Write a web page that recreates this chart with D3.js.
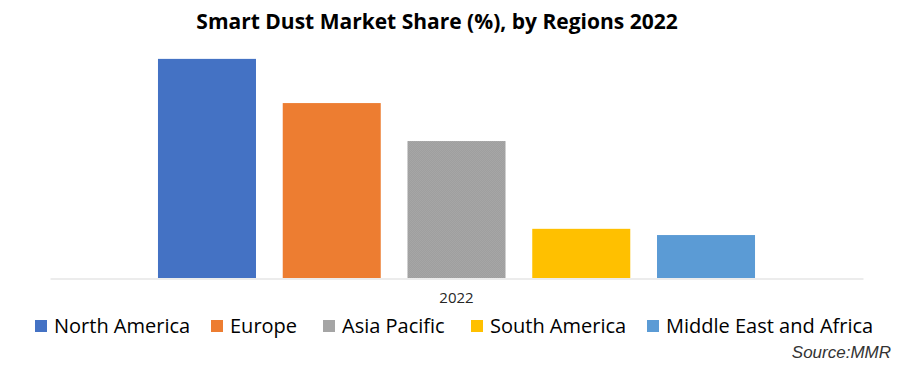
<!DOCTYPE html>
<html>
<head>
<meta charset="utf-8">
<script src="https://cdn.jsdelivr.net/npm/d3@7"></script>
<style>
  body { margin: 0; background: #fff; }
  svg { display: block; }
</style>
</head>
<body>
<svg width="905" height="371"></svg>
<script>
// Chart data (no axis so shares are estimated)
const years = ["2022"];
const regions = ["North America", "Europe", "Asia Pacific", "South America", "Middle East and Africa"];
const shares = [35.2, 28.1, 22.0, 7.9, 6.9];
const colors = ["#4472C4", "#ED7D31", "url(#ap-dots)", "#FFC000", "#5B9BD5"];
const swatchColors = ["#4472C4", "#ED7D31", "#A5A5A5", "#FFC000", "#5B9BD5"];

const svg = d3.select("svg");
const width = +svg.attr("width");
const height = +svg.attr("height");
const font = "'Open Sans', sans-serif";

// Dotted fill for Asia Pacific
const pat = svg.append("defs").append("pattern")
   .attr("id", "ap-dots")
   .attr("width", 2).attr("height", 2)
   .attr("patternUnits", "userSpaceOnUse");
pat.append("rect").attr("width", 2).attr("height", 2).attr("fill", "#a9a9a9");
pat.append("rect").attr("width", 1).attr("height", 1).attr("fill", "#9c9c9c");
pat.append("rect").attr("x", 1).attr("y", 1).attr("width", 1).attr("height", 1).attr("fill", "#9c9c9c");

// Title
svg.append("text")
   .attr("x", 437)
   .attr("y", 29)
   .attr("text-anchor", "middle")
   .style("font-family", font)
   .style("font-weight", "bold")
   .style("font-size", "21px")
   .style("fill", "#000")
   .text("Smart Dust Market Share (%), by Regions 2022");

// Scales
const x0 = d3.scaleBand()
             .domain(years)
             .range([50, 863])
             .padding(0.111);
const x1 = d3.scaleBand()
             .domain(regions)
             .range([0, x0.bandwidth()])
             .padding(0.2144);
const y = d3.scaleLinear()
            .domain([0, 40])
            .range([278, 29]);

// Bars
const rows = regions.map((r, i) => ({ region: r, value: shares[i], color: colors[i] }));
const group = svg.selectAll(".year")
                 .data(years)
                 .enter()
                 .append("g")
                 .attr("class", "year")
                 .attr("transform", d => `translate(${x0(d)},0)`);
group.selectAll("rect")
     .data(rows)
     .enter()
     .append("rect")
     .attr("x", d => x1(d.region))
     .attr("y", d => y(d.value))
     .attr("width", x1.bandwidth())
     .attr("height", d => y(0) - y(d.value))
     .attr("fill", d => d.color);

// X axis (line only, category label underneath)
const xAxis = svg.append("g")
                 .attr("transform", `translate(0,${y(0) + 0.5})`)
                 .call(d3.axisBottom(x0).tickSize(0).tickPadding(14));
xAxis.select(".domain").attr("stroke", "#d9d9d9").attr("stroke-width", 1);
xAxis.selectAll("text")
     .style("font-family", font)
     .style("font-size", "15px")
     .style("fill", "#262626");

// Legend
const legendX = [35, 211, 323, 471, 647];
const legend = svg.append("g").attr("transform", "translate(0,320)");
const items = legend.selectAll(".legend-item")
                    .data(regions)
                    .enter()
                    .append("g")
                    .attr("class", "legend-item")
                    .attr("transform", (d, i) => `translate(${legendX[i]},0)`);
items.append("rect")
     .attr("width", 12)
     .attr("height", 12)
     .attr("fill", (d, i) => swatchColors[i]);
items.append("text")
     .attr("x", 19)
     .attr("y", 13)
     .style("font-family", font)
     .style("font-size", "20px")
     .style("fill", "#000")
     .text(d => d);

// Source note
svg.append("text")
   .attr("x", 891)
   .attr("y", 358)
   .attr("text-anchor", "end")
   .style("font-family", "'Liberation Sans', Arial, sans-serif")
   .style("font-style", "italic")
   .style("font-size", "17px")
   .style("fill", "#333")
   .text("Source:MMR");
</script>
</body>
</html>
